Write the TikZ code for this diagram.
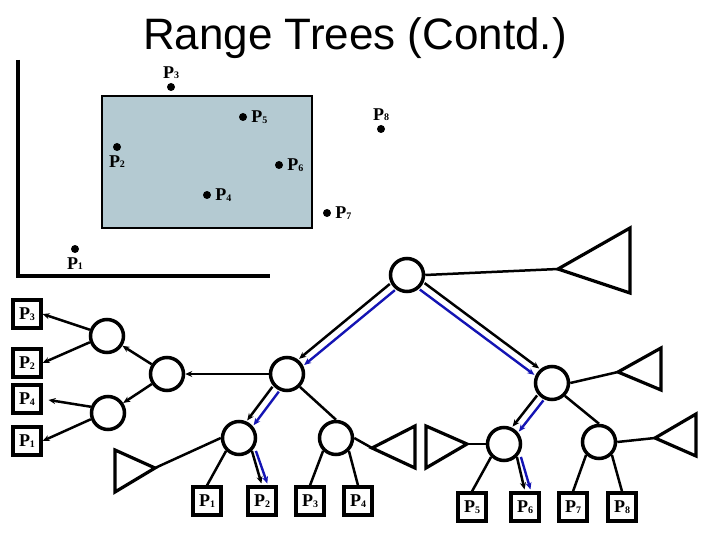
\documentclass[tikz,border=0pt]{standalone}
\usepackage{fontspec}
\setmainfont{Liberation Serif}
\newfontfamily\titlefont{Liberation Sans}
\usetikzlibrary{arrows.meta,calc}
\definecolor{rangefill}{RGB}{180,202,210}
\definecolor{pathblue}{RGB}{20,20,180}
\newcommand{\Plab}[1]{\textbf{P\raisebox{-0.5pt}{\fontsize{10}{10}\selectfont #1}}}

\begin{document}
\begin{tikzpicture}[x=1pt, y=-1pt, >={Stealth[length=7pt,width=6pt]},
    tnode/.style = {draw, circle, line width=3.5pt, minimum size=33pt, inner sep=0pt},
    leaf/.style = {draw, line width=3.2pt, minimum size=28pt, inner sep=0pt, font=\fontsize{18}{20}\selectfont},
    pnt/.style = {circle, fill, inner sep=0pt, minimum size=8pt},
    tree/.style = {line width=2.5pt},
    tri/.style = {line width=3.2pt, line join=miter},
    hl/.style = {line width=2.4pt, pathblue},
    every label/.style = {inner sep=1pt, label distance=3pt, font=\fontsize{18}{20}\selectfont}]
\useasboundingbox (0,0) rectangle (720,540);

% title
\node[font=\titlefont\fontsize{44}{48}\selectfont, anchor=base] (title) at (355,50) {Range Trees (Contd.)};

% the plane with the query range
\draw[line width=3.5pt] (18,60) -- (18,276) -- (270,276);
\draw[fill=rangefill, line width=1.2pt] (102,96) rectangle (312,228);
\node[pnt, label=above:\Plab{3}] (p3) at (171,87) {};
\node[pnt, label=right:\Plab{5}] (p5) at (243,117) {};
\node[pnt, label=above:\Plab{8}] (p8) at (381,129) {};
\node[pnt, label=below:\Plab{2}] (p2) at (117,147) {};
\node[pnt, label=right:\Plab{6}] (p6) at (279,165) {};
\node[pnt, label=right:\Plab{4}] (p4) at (207,195) {};
\node[pnt, label=right:\Plab{7}] (p7) at (327,213) {};
\node[pnt, label=below:\Plab{1}] (p1) at (75,249) {};

% primary tree
\node[tnode] (root) at (407,275) {};
\node[tnode] (lc) at (287,374) {};
\node[tnode] (rc) at (552,383) {};
\node[tnode] (ll) at (239,438) {};
\node[tnode] (lr) at (336,438) {};
\node[tnode] (rl) at (504,444) {};
\node[tnode] (rr) at (599,442) {};

\node[leaf] (l1) at (207,501) {\Plab{1}};
\node[leaf] (l2) at (262,501) {\Plab{2}};
\node[leaf] (l3) at (310,501) {\Plab{3}};
\node[leaf] (l4) at (358,501) {\Plab{4}};
\node[leaf] (l5) at (472,507) {\Plab{5}};
\node[leaf] (l6) at (525,507) {\Plab{6}};
\node[leaf] (l7) at (573,507) {\Plab{7}};
\node[leaf] (l8) at (622,507) {\Plab{8}};

% search path, black and blue side by side
\draw[tree,->,shorten <=19pt,shorten >=19pt] ($(root)!4pt!-90:(lc)$) -- ($(lc)!4pt!90:(root)$);
\draw[hl,->,shorten <=19pt,shorten >=19pt] ($(root)!4pt!90:(lc)$) -- ($(lc)!4pt!-90:(root)$);
\draw[tree,->,shorten <=19pt,shorten >=19pt] ($(root)!4pt!90:(rc)$) -- ($(rc)!4pt!-90:(root)$);
\draw[hl,->,shorten <=19pt,shorten >=19pt] ($(root)!4pt!-90:(rc)$) -- ($(rc)!4pt!90:(root)$);
\draw[tree,->,shorten <=19pt,shorten >=19pt] ($(lc)!4pt!-90:(ll)$) -- ($(ll)!4pt!90:(lc)$);
\draw[hl,->,shorten <=19pt,shorten >=19pt] ($(lc)!4pt!90:(ll)$) -- ($(ll)!4pt!-90:(lc)$);
\draw[tree,->,shorten <=19pt,shorten >=19pt] ($(rc)!4pt!-90:(rl)$) -- ($(rl)!4pt!90:(rc)$);
\draw[hl,->,shorten <=19pt,shorten >=19pt] ($(rc)!4pt!90:(rl)$) -- ($(rl)!4pt!-90:(rc)$);
\draw[tree,->,shorten >=2pt] (ll.south east) -- (l2.north);
\draw[hl,->,shorten >=2pt] ([xshift=4pt]ll.south east) -- ([xshift=6pt]l2.north);
\draw[tree,->,shorten >=2pt] (rl.south east) -- (l6.north);
\draw[hl,->,shorten >=2pt] ([xshift=4pt]rl.south east) -- ([xshift=6pt]l6.north);

% other tree edges
\draw[tree] (lc.south east) -- (lr.north);
\draw[tree] (rc.south east) -- (rr.north);
\draw[tree] (ll.south west) -- (l1.north);
\draw[tree] (lr.south west) -- (l3.north);
\draw[tree] (lr.south east) -- (l4.north);
\draw[tree] (rl.south west) -- (l5.north);
\draw[tree] (rr.south west) -- (l7.north);
\draw[tree] (rr.south east) -- (l8.north);

% associated structures
\coordinate (troot) at (558,269);
\coordinate (trc) at (618,372);
\coordinate (trr) at (655,438);
\coordinate (trl) at (467,444);
\coordinate (tlr) at (372,448);
\coordinate (tll) at (155,468);
\draw[tri] (troot) -- (630,228) -- (630,293) -- cycle;
\draw[tri] (trc) -- (661,348) -- (661,390) -- cycle;
\draw[tri] (trr) -- (696,414) -- (696,456) -- cycle;
\draw[tri] (trl) -- (426,426) -- (426,468) -- cycle;
\draw[tri] (tlr) -- (415,426) -- (415,468) -- cycle;
\draw[tri] (tll) -- (115,450) -- (115,492) -- cycle;
\draw[tree] (root.east) -- (troot);
\draw[tree] (rc.east) -- (trc);
\draw[tree] (rr.east) -- (trr);
\draw[tree] (rl.west) -- (trl);
\draw[tree] (lr.east) -- (tlr);
\draw[tree] (ll.west) -- (tll);

% associated tree of the left child
\node[tnode] (a) at (167,374) {};
\node[tnode] (a1) at (107,336) {};
\node[tnode] (a2) at (108,413) {};
\node[leaf] (s3) at (27,314) {\Plab{3}};
\node[leaf] (s2) at (27,363) {\Plab{2}};
\node[leaf] (s4) at (27,399) {\Plab{4}};
\node[leaf] (s1) at (27,441) {\Plab{1}};
\draw[tree,->] (lc) -- (a);
\draw[tree,->] (a) -- (a1);
\draw[tree,->] (a) -- (a2);
\draw[tree,->] (a1.160) -- (s3.east);
\draw[tree,->] (a1.200) -- (s2.east);
\draw[tree,->,shorten >=6pt] (a2.160) -- (s4.east);
\draw[tree,->] (a2.200) -- (s1.east);
\end{tikzpicture}
\end{document}
